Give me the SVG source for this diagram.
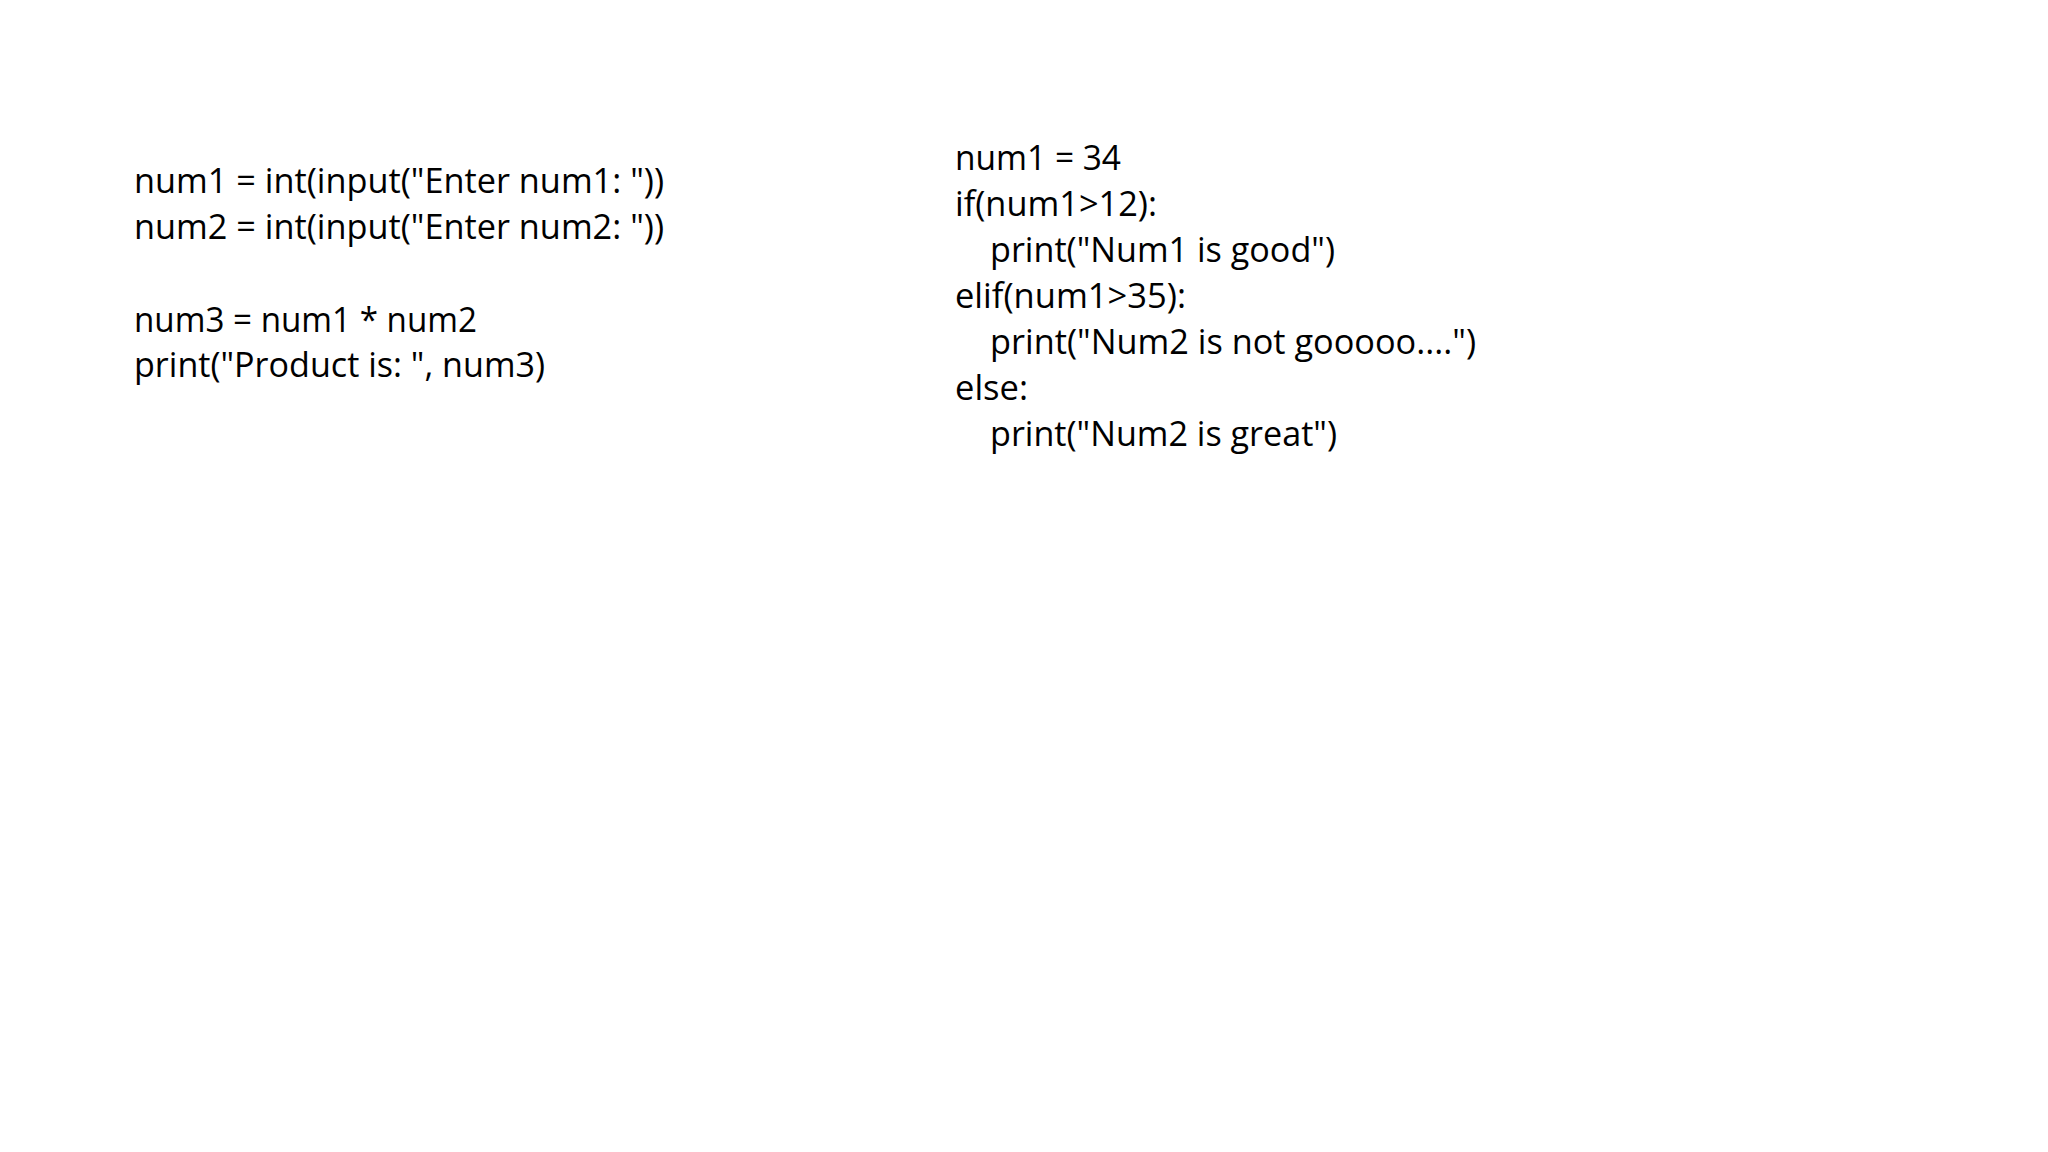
<svg xmlns="http://www.w3.org/2000/svg" width="2048" height="1152" viewBox="0 0 2048 1152">
<style>text{font-family:"Open Sans","Liberation Sans",sans-serif;font-size:35px;fill:#000}</style>
<rect width="2048" height="1152" fill="#fff"/>
<g id="code-left">
<text x="134" y="193" textLength="530" lengthAdjust="spacingAndGlyphs">num1 = int(input("Enter num1: "))</text>
<text x="134" y="239" textLength="530" lengthAdjust="spacingAndGlyphs">num2 = int(input("Enter num2: "))</text>
<text x="134" y="332" textLength="343" lengthAdjust="spacingAndGlyphs">num3 = num1 * num2</text>
<text x="134" y="377" textLength="411" lengthAdjust="spacingAndGlyphs">print("Product is: ", num3)</text>
</g>
<g id="code-right">
<text x="955" y="170" textLength="166" lengthAdjust="spacingAndGlyphs">num1 = 34</text>
<text x="955" y="216" textLength="202" lengthAdjust="spacingAndGlyphs">if(num1&gt;12):</text>
<text x="990" y="262" textLength="345" lengthAdjust="spacingAndGlyphs">print("Num1 is good")</text>
<text x="955" y="308" textLength="231" lengthAdjust="spacingAndGlyphs">elif(num1&gt;35):</text>
<text x="990" y="354" textLength="486" lengthAdjust="spacingAndGlyphs">print("Num2 is not gooooo....")</text>
<text x="955" y="400" textLength="73" lengthAdjust="spacingAndGlyphs">else:</text>
<text x="990" y="446" textLength="347" lengthAdjust="spacingAndGlyphs">print("Num2 is great")</text>
</g>
</svg>
